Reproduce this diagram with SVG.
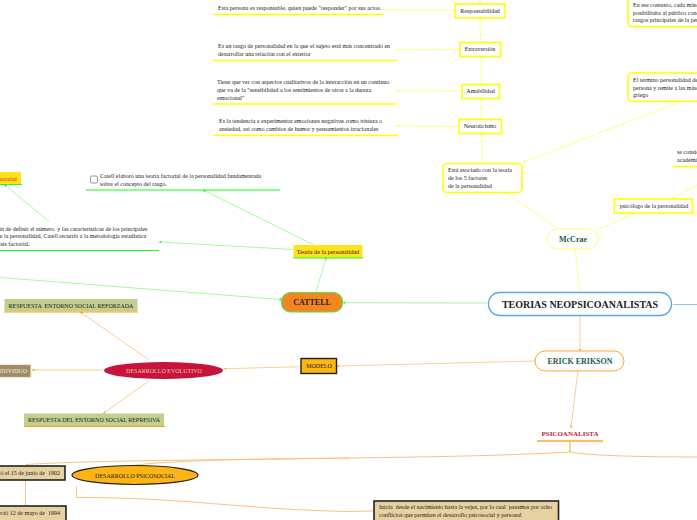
<svg xmlns="http://www.w3.org/2000/svg" width="697" height="520" viewBox="0 0 697 520">
<defs>
<marker id="ay" markerWidth="3" markerHeight="3" refX="1.500" refY="1.500" orient="auto" markerUnits="userSpaceOnUse"><path d="M3 0L0 1.500L3 3Z" fill="#ffff55"/></marker>
<marker id="ag" markerWidth="3" markerHeight="3" refX="1.500" refY="1.500" orient="auto" markerUnits="userSpaceOnUse"><path d="M3 0L0 1.500L3 3Z" fill="#35f035"/></marker>
<marker id="ao" markerWidth="3" markerHeight="3" refX="1.500" refY="1.500" orient="auto" markerUnits="userSpaceOnUse"><path d="M3 0L0 1.500L3 3Z" fill="#fda83a"/></marker>
</defs>
<style>
text{font-family:"Liberation Serif",serif;fill:#222;font-size:6px;white-space:pre}
.y{fill:none;stroke:#ffff88;stroke-width:1;marker-start:url(#ay)}
.g{fill:none;stroke:#a5fb9f;stroke-width:1;marker-start:url(#ag)}
.o{fill:none;stroke:#fdcf8f;stroke-width:1;marker-start:url(#ao)}
.c{fill:none;stroke:#fdc27a;stroke-width:1}
.ybox{fill:#fff;stroke:#ffff00;stroke-width:1.600}
.yline{stroke:#ffff00;stroke-width:1.500}
.gline{stroke:#19ff19;stroke-width:1.200}
.oline{stroke:#ff9f0f;stroke-width:1}
.tan{fill:#e6d1a1;stroke:#222;stroke-width:1.600}
.sage{fill:#c3cf8e}
</style>
<rect width="697" height="520" fill="#fff"/>
<g id="connectors">
<path class="y" d="M383 9.700L455 10.500"/>
<path class="y" d="M397 49.700L460 49.300"/>
<path class="y" d="M397 90.700L462 91.300"/>
<path class="y" d="M398 126L459 126.500"/>
<path class="y" d="M480 18.500L480.500 42"/>
<path class="y" d="M481 56.500L481 84"/>
<path class="y" d="M481 99L481 119"/>
<path class="y" d="M480 0L480 4"/>
<path class="y" d="M481.500 134L482.500 163"/>
<path class="y" d="M506 193L557 228"/>
<path class="y" d="M635 213L597 230"/>
<path class="y" d="M524 162L680 102"/>
<path class="y" d="M672 199L697 185"/>
<path class="y" d="M575 249L580 292"/>
<path class="g" d="M160 242L293 249.500"/>
<path class="g" d="M204 190.500L313 244.500"/>
<path class="g" d="M326 258L316 291.500"/>
<path class="g" d="M281 299.500L0 277.500"/>
<path class="g" d="M5 185L49 221.500"/>
<path class="g" d="M344 302.700L488 303"/>
<path class="o" d="M580 350L580 316"/>
<path class="o" d="M571 427L578 371"/>
<path class="o" d="M338 366L535 361"/>
<path class="o" d="M225 368.700L301 366.700"/>
<path class="o" d="M81 312.500L149 360"/>
<path class="o" d="M33 370L102 370"/>
<path class="o" d="M104 413L149 381"/>
<path class="c" d="M570 452C500 456 420 457 350 458C230 460 100 460 26 464.500"/>
<path class="c" d="M350 458C260 459 170 460 133 465.500"/>
<path class="c" d="M570 452C590 456 650 457 697 457"/>
<path class="c" d="M25.500 480V506"/>
<path class="c" d="M76.500 486V497.500C180 497 250 510 350 511.500L373 511"/>
<path d="M570 441V452" stroke="#ffa726" stroke-width="1"/>
<path d="M673 304.500H697" stroke="#8cc8ec" stroke-width="1"/>
</g>
<g id="n-responsabilidad"><rect class="ybox" x="455" y="4" width="50" height="14"/><text x="480" y="13" text-anchor="middle">Responsabilidad</text></g>
<g id="n-extraversion"><rect class="ybox" x="460" y="42.500" width="40.500" height="14"/><text x="480" y="51" text-anchor="middle">Extraversión</text></g>
<g id="n-amabilidad"><rect class="ybox" x="462" y="84.500" width="37.500" height="14"/><text x="480.500" y="93" text-anchor="middle">Amabilidad</text></g>
<g id="n-neuroticismo"><rect class="ybox" x="459" y="119.500" width="42.500" height="14"/><text x="480" y="128" text-anchor="middle">Neuroticismo</text></g>
<g id="t-resp"><text x="218" y="10">Esta persona es responsable, quien puede "responder" por sus actos.</text><line class="yline" x1="213" y1="14.500" x2="383" y2="14.500"/></g>
<g id="t-extra"><text x="218" y="48">Es un rasgo de personalidad en la que el sujeto está más concentrado en</text><text x="218" y="56">desarrollar una relación con el exterior</text><line class="yline" x1="213" y1="60.500" x2="397" y2="60.500"/></g>
<g id="t-amab"><text x="217" y="84">Tiene que ver con aspectos cualitativos de la interacción en un continuo</text><text x="217" y="92">que va de la "sensibilidad a los sentimientos de otros a la dureza</text><text x="217" y="99.500">emocional"</text><line class="yline" x1="213" y1="104" x2="397" y2="104"/></g>
<g id="t-neuro"><text x="219" y="123">Es la tendencia a experimentar emociones negativas como tristeza o</text><text x="219" y="131">ansiedad, así como cambios de humor y pensamientos irracionales</text><line class="yline" x1="214" y1="135.500" x2="398" y2="135.500"/></g>
<g id="n-factores"><rect class="ybox" x="443" y="163.500" width="79" height="29" rx="4"/><text x="448" y="172">Está asociado con la teoría</text><text x="448" y="180">de los 5 factores</text><text x="448" y="187.500">de la personalidad</text></g>
<g id="n-contexto"><rect class="ybox" x="628" y="-10" width="90" height="36.500" rx="4"/><text x="633" y="7">En ese contexto, cada máscara</text><text x="633" y="14.500">posibilitaba al público conocer los</text><text x="633" y="22">rasgos principales de la persona</text></g>
<g id="n-termino"><rect class="ybox" x="628" y="73" width="90" height="28.500" rx="4"/><text x="633" y="82">El término personalidad deriva de</text><text x="633" y="89.500">persona y remite a las máscaras del</text><text x="633" y="97">griego</text></g>
<g id="t-cons"><text x="677" y="154">se considera</text><text x="677" y="162">académico</text><line class="yline" x1="673" y1="166.500" x2="697" y2="166.500"/></g>
<g id="n-psicologo"><rect class="ybox" x="614.500" y="199" width="78" height="14"/><text x="654" y="208" text-anchor="middle">psicólogo de la personalidad</text></g>
<g id="n-mccrae"><rect x="547.500" y="229" width="51" height="20" rx="10" fill="#fff" stroke="#ffff66"/><text x="573" y="242" text-anchor="middle" style="font-size:8px;font-weight:bold;fill:#1c5c48">McCrae</text></g>
<g id="n-teorias"><rect x="488.500" y="292.500" width="183" height="23" rx="11" fill="#fff" stroke="#5fa8db" stroke-width="1.300"/><text x="580" y="307.500" text-anchor="middle" style="font-size:10px;font-weight:bold">TEORIAS NEOPSICOANALISTAS</text></g>
<g id="n-erikson"><rect x="535" y="351" width="89" height="20" rx="10" fill="#fff" stroke="#ffa726"/><text x="580" y="363.500" text-anchor="middle" style="font-size:8px;font-weight:bold;fill:#1c5c48">ERICK ERIKSON</text></g>
<g id="n-psicoanalista"><text x="570" y="436" text-anchor="middle" style="font-size:7px;font-weight:bold;fill:#c8143c">PSICOANALISTA</text><line x1="537" y1="441" x2="603" y2="441" stroke="#ffa726" stroke-width="1.400"/></g>
<g id="n-cattell"><rect x="281.500" y="292.500" width="61" height="19.500" rx="9" fill="#f5851f" stroke="#52e052" stroke-width="1.200"/><text x="312" y="305" text-anchor="middle" style="font-size:8px;font-weight:bold">CATTELL</text></g>
<g id="n-teoria-pers"><rect x="293.500" y="245" width="69" height="13" fill="#ffe21c"/><line class="gline" x1="293.500" y1="258" x2="363" y2="258"/><text x="328" y="253.500" text-anchor="middle" style="font-size:6.200px">Teoría de la personalidad</text></g>
<g id="t-catell"><rect x="90.500" y="176" width="7" height="7" rx="1.500" fill="#fff" stroke="#777" stroke-width=".8"/><text x="100" y="178">Catell elaboró una teoría factorial de la personalidad fundamentada</text><text x="100" y="185.500">sobre el concepto del rasgo.</text><line class="gline" x1="86" y1="190" x2="280" y2="190"/></g>
<g id="t-definir"><text x="-20" y="230.500">Con el fin de definir el número  y las características de los principales</text><text x="-20" y="238">rasgos de la personalidad, Catell recurrió a la metodología estadística</text><text x="-20" y="246">del análisis factorial.</text><line class="gline" x1="0" y1="250.500" x2="159" y2="250.500"/></g>
<g id="n-factorial"><rect x="-20" y="172" width="41" height="12" fill="#ffe21c"/><line class="gline" x1="-20" y1="184.500" x2="22" y2="184.500"/><text x="17" y="180.500" text-anchor="end" style="fill:#d21f1f">factorial</text></g>
<g id="n-reforzada"><rect class="sage" x="4.500" y="299" width="133" height="12.500"/><line class="oline" x1="4" y1="312" x2="138" y2="312"/><text x="71" y="307.500" text-anchor="middle">RESPUESTA  ENTORNO SOCIAL REFORZADA</text></g>
<g id="n-represiva"><rect class="sage" x="24" y="413.500" width="140" height="12.500"/><line class="oline" x1="24" y1="426.500" x2="165" y2="426.500"/><text x="94" y="422" text-anchor="middle">RESPUESTA DEL ENTORNO SOCIAL REPRESIVA</text></g>
<g id="n-evolutivo"><ellipse cx="163.500" cy="370.500" rx="59.500" ry="8.500" fill="#c8143c"/><text x="164" y="372.500" text-anchor="middle" style="fill:#e8c4a8">DESARROLLO EVOLUTIVO</text></g>
<g id="n-individuo"><rect x="-20" y="364.500" width="51" height="13" fill="#a08c64" stroke="#eee9dc" stroke-width="1.200"/><text x="27" y="372.500" text-anchor="end" style="fill:#f4eedd">INDIVIDUO</text></g>
<g id="n-modelo"><rect x="301" y="358.500" width="35.500" height="15" fill="#fdb515" stroke="#222" stroke-width="1.400"/><text x="319" y="368" text-anchor="middle">MODELO</text></g>
<g id="n-nacio"><rect class="tan" x="-30" y="466" width="95" height="14"/><text x="60" y="474.500" text-anchor="end">Nació el 15 de junio de  1902</text></g>
<g id="n-fallecio"><rect class="tan" x="-30" y="506" width="96" height="15"/><text x="60" y="514.500" text-anchor="end">Falleció 12 de mayo de  1994</text></g>
<g id="n-psicosocial"><ellipse cx="135" cy="475" rx="63" ry="9.500" fill="#fdb515" stroke="#222" stroke-width="1.200"/><text x="135" y="477.500" text-anchor="middle">DESARROLLO PSICOSOCIAL</text></g>
<g id="n-inicia"><rect class="tan" x="374" y="501" width="184.500" height="30"/><text x="379" y="509">Inicia  desde el nacimiento hasta la vejez, por lo cual  pasamos por ocho</text><text x="379" y="517">conflictos que permiten el desarrollo psicosocial y personal</text></g>
</svg>
